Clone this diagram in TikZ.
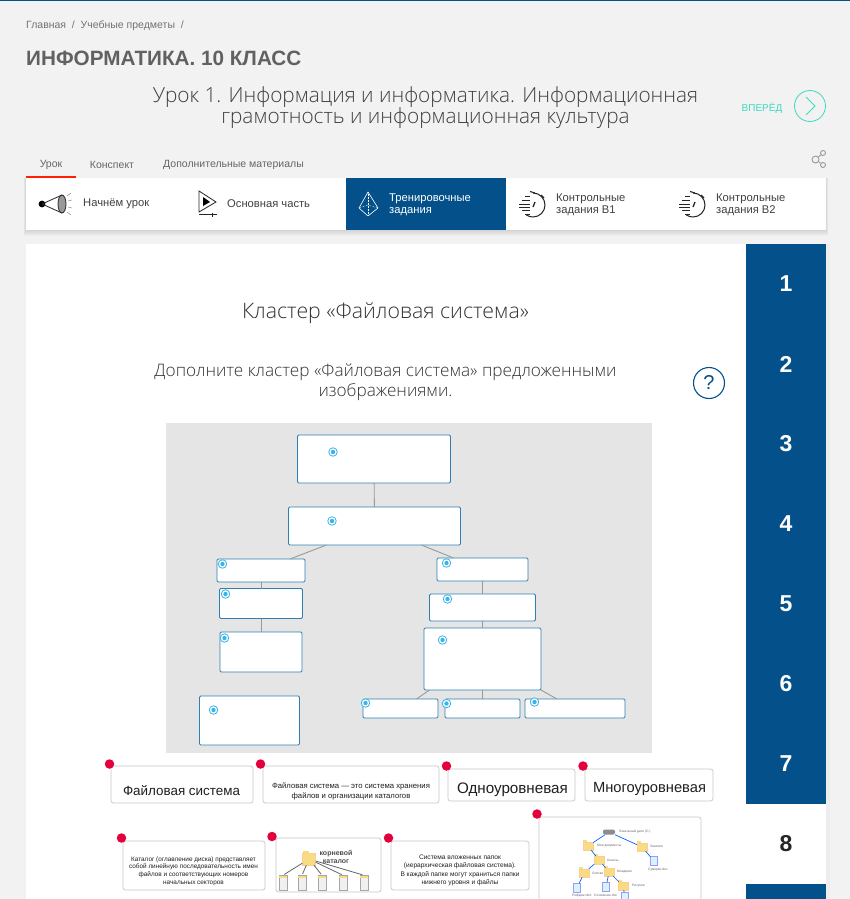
\documentclass[tikz,border=0pt]{standalone}
\usepackage{fontspec}
\setmainfont{Liberation Sans}
\newfontfamily\lightfont[UprightFont=* Light]{Open Sans}

\definecolor{pageblue}{HTML}{04508A}
\definecolor{slotblue}{HTML}{2F7FB5}
\definecolor{markblue}{HTML}{39B4EA}
\definecolor{panelgrey}{HTML}{E5E5E5}
\definecolor{teal}{HTML}{3FD9BF}
\definecolor{dotred}{HTML}{E4003A}
\definecolor{foldery}{HTML}{F8DC82}

\begin{document}
\begin{tikzpicture}[x=1pt,y=-1pt]
  \tikzset{SlotStyle/.style = {
    shape         = rectangle,
    draw          = slotblue,
    fill          = white,
    line width    = 0.9pt,
    rounded corners = 1.2pt,
    inner sep     = 0pt,
    outer sep     = 0pt
    }
  }
  \tikzset{MarkStyle/.style = {
    shape         = circle,
    draw          = markblue,
    fill          = white,
    line width    = 0.8pt,
    minimum size  = 8.5pt,
    inner sep     = 0pt,
    path picture  = {\fill[markblue] (path picture bounding box.center) circle (2.2pt);}
    }
  }
  \tikzset{LinkStyle/.style = {
    draw          = black!40,
    line width    = 0.9pt
    }
  }
  \tikzset{CardStyle/.style = {
    shape         = rectangle,
    draw          = black!22,
    fill          = white,
    line width    = 0.7pt,
    rounded corners = 2.5pt,
    inner sep     = 0pt,
    outer sep     = 0pt
    }
  }
  \tikzset{CardText/.style = {
    inner sep     = 0pt,
    align         = center,
    text          = black!88
    }
  }
  \tikzset{DotStyle/.style = {
    shape         = circle,
    fill          = dotred,
    minimum size  = 9.5pt,
    inner sep     = 0pt
    }
  }
  \tikzset{NumStyle/.style = {
    shape         = rectangle,
    fill          = pageblue,
    text          = white,
    minimum width = 80pt,
    minimum height= 80pt,
    inner sep     = 0pt,
    outer sep     = 0pt,
    font          = \bfseries\fontsize{23}{23}\selectfont
    }
  }
  \tikzset{MenuText/.style = {
    anchor        = west,
    align         = left,
    inner sep     = 0pt,
    text          = black!75,
    font          = \fontsize{11.2}{11.5}\selectfont
    }
  }
  \tikzset{TabText/.style = {
    inner sep     = 0pt,
    text          = black!60,
    font          = \fontsize{10.5}{11}\selectfont
    }
  }
  \tikzset{FolderStyle/.style = {
    shape         = rectangle,
    fill          = foldery,
    draw          = orange!40,
    line width    = 0.3pt,
    minimum width = 10pt,
    minimum height= 8pt,
    inner sep     = 0pt
    }
  }
  \tikzset{DocStyle/.style = {
    shape         = rectangle,
    fill          = cyan!15,
    draw          = blue!40,
    line width    = 0.3pt,
    minimum width = 7pt,
    minimum height= 9pt,
    inner sep     = 0pt
    }
  }
  \tikzset{TinyText/.style = {
    anchor        = west,
    inner sep     = 0pt,
    text          = black!60,
    font          = \fontsize{3.3}{4}\selectfont
    }
  }
  \tikzset{TreeLink/.style = {
    draw          = blue!60!cyan,
    line width    = 0.7pt
    }
  }
  \tikzset{SheetStyle/.style = {
    shape         = rectangle,
    fill          = black!6,
    draw          = black!35,
    line width    = 0.5pt,
    minimum width = 8pt,
    minimum height= 15pt,
    inner sep     = 0pt
    }
  }
  \tikzset{IconLine/.style = {
    draw          = black!85,
    line width    = 0.8pt
    }
  }

  % page
  \useasboundingbox (0,0) rectangle (850,899);
  \fill[black!5] (0,0) rectangle (850,899);
  \fill[pageblue] (0,0) rectangle (850,1);

  % head
  \node[anchor=west, inner sep=0pt, text=black!55, font=\fontsize{10.5}{11}\selectfont](Crumbs) at (26,26) {Главная \ /\ \ Учебные предметы \ /};
  \node[anchor=west, inner sep=0pt, text=black!62, font=\bfseries\fontsize{20.7}{21}\selectfont](Course) at (26,58.5) {ИНФОРМАТИКА. 10 КЛАСС};
  \node[align=center, inner sep=0pt, text=black!75, font=\lightfont\fontsize{20.8}{21}\selectfont](Lesson) at (425.5,108) {Урок 1. Информация и информатика. Информационная\\грамотность и информационная культура};
  \node[inner sep=0pt, text=teal, font=\fontsize{10}{10}\selectfont](Next) at (762,108) {ВПЕРЁД};
  \node[circle, draw=teal, line width=0.8pt, minimum size=31pt, inner sep=0pt](NextRing) at (810,106) {};
  \draw[teal, line width=0.8pt] (806,97) -- (815,106) -- (806,115);

  % share icon
  \node[circle, draw=black!40, line width=0.9pt, minimum size=7pt, inner sep=0pt](ShareA) at (815.5,159.5) {};
  \node[circle, draw=black!40, line width=0.9pt, minimum size=5pt, inner sep=0pt](ShareB) at (823,153) {};
  \node[circle, draw=black!40, line width=0.9pt, minimum size=5pt, inner sep=0pt](ShareC) at (823,165) {};
  \draw[black!40, line width=0.9pt] (ShareA) -- (ShareB);
  \draw[black!40, line width=0.9pt] (ShareA) -- (ShareC);

  % tabs
  \node[TabText](TabLesson) at (51,165) {Урок};
  \node[TabText](TabNotes) at (112,165) {Конспект};
  \node[TabText](TabExtra) at (233.5,165) {Дополнительные материалы};
  \fill[red!75!orange] (26,176) rectangle (76,178);

  % menu
  \foreach \s in {1,...,6}
    \fill[black, opacity=0.018] (26-\s*0.4,178) rectangle (826+\s*0.4,230+\s);
  \fill[white] (26,178) rectangle (826,230);
  \fill[pageblue] (346,178) rectangle (506,230);
  \node[MenuText](MenuStart) at (83,204) {Начнём урок};
  \node[MenuText](MenuMain) at (227,204) {Основная часть};
  \node[MenuText, text=white](MenuTrain) at (389,205) {Тренировочные\\задания};
  \node[MenuText](MenuB1) at (556,205) {Контрольные\\задания В1};
  \node[MenuText](MenuB2) at (716,205) {Контрольные\\задания В2};

  % megaphone
  \fill[black] (42,204) circle (3.4pt);
  \draw[IconLine] (42,204) -- (62,195);
  \draw[IconLine] (42,204) -- (62,213);
  \draw[IconLine, fill=black!40] (62,204) ellipse (4pt and 9pt);
  \foreach \a/\b/\c/\d in {67/196/71/193, 68/201/72/200, 68/207/72/208, 67/212/71/215}
    \draw[black!40, line width=0.6pt] (\a,\b) -- (\c,\d);

  % play
  \draw[IconLine] (199,191) -- (216,202) -- (199,212) -- cycle;
  \fill[black] (203,197) -- (210,202) -- (203,206) -- cycle;
  \draw[black!85, line width=1.2pt] (199,214.5) -- (217,214.5);
  \draw[black!85, line width=0.8pt] (212,212.5) -- (212,216.5);

  % pyramid
  \draw[white, line width=0.6pt, line join=round] (368,192) -- (359,208) -- (368,216) -- (378,208) -- cycle;
  \draw[white, line width=0.5pt, densely dotted] (368,192) -- (368,216);
  \draw[white, line width=0.5pt, densely dotted] (359,208) -- (368,205) -- (378,208);

  % stopwatches
  \foreach \cx in {533,693}{
    \draw[IconLine, line width=1pt] (\cx,193) arc (90:-125:12pt);
    \draw[IconLine, line width=1.1pt] (\cx-3,191.5) -- (\cx+2,193);
    \draw[IconLine, line width=1.1pt] (\cx+8,195) -- (\cx+11,198);
    \foreach \y/\l in {196/6, 200/9, 204/12, 207/12, 210/9, 214/6}
      \draw[black!85, line width=0.9pt] (\cx-\l-2,\y) -- (\cx-3,\y);
    \draw[black!85, line width=1.3pt] (\cx,207) -- (\cx+2,202);
  }

  % lesson card
  \fill[white] (26,244) rectangle (746,899);
  \fill[black!7] (826,244) rectangle (830,899);

  % right column
  \foreach \n in {1,...,7}
    \node[NumStyle](Num\n) at (786,204+80*\n) {\n};
  \node[NumStyle, fill=white, text=black!85](Num8) at (786,844) {8};
  \fill[pageblue] (746,884) rectangle (826,899);

  % task text
  \node[inner sep=0pt, text=black!80, font=\lightfont\fontsize{21.3}{21}\selectfont](Task) at (385.5,313) {Кластер «Файловая система»};
  \node[align=center, inner sep=0pt, text=black!80, font=\lightfont\fontsize{17.2}{20}\selectfont](Hint) at (385.5,382) {Дополните кластер «Файловая система» предложенными\\изображениями.};
  \node[circle, draw=pageblue, line width=1.1pt, minimum size=31pt, inner sep=0pt, text=pageblue, font=\fontsize{20}{20}\selectfont](Help) at (709,383) {?};

  % cluster
  \fill[panelgrey] (166,423) rectangle (652,753);

  \node[SlotStyle, minimum width=153pt, minimum height=48pt](Root) at (374,459) {};
  \node[SlotStyle, minimum width=172pt, minimum height=38pt](Kinds) at (374.5,526) {};
  \node[SlotStyle, minimum width=88pt, minimum height=23pt](LeftA) at (261,570.5) {};
  \node[SlotStyle, minimum width=83pt, minimum height=30pt](LeftB) at (261,603.5) {};
  \node[SlotStyle, minimum width=82pt, minimum height=40pt](LeftC) at (261,652) {};
  \node[SlotStyle, minimum width=100pt, minimum height=49pt](LeftD) at (249.5,720.5) {};
  \node[SlotStyle, minimum width=91pt, minimum height=23pt](RightA) at (482.5,569.5) {};
  \node[SlotStyle, minimum width=106pt, minimum height=27pt](RightB) at (482.5,607.5) {};
  \node[SlotStyle, minimum width=117pt, minimum height=62pt](RightC) at (482.5,659) {};
  \node[SlotStyle, minimum width=75pt, minimum height=19pt](LeafA) at (400.5,708.5) {};
  \node[SlotStyle, minimum width=75pt, minimum height=19pt](LeafB) at (482.5,708.5) {};
  \node[SlotStyle, minimum width=100pt, minimum height=19pt](LeafC) at (575,708.5) {};

  \draw[LinkStyle] (Root) -- (Kinds);
  \draw[LinkStyle] ([xshift=-48pt]Kinds.south) -- ([xshift=29pt]LeftA.north);
  \draw[LinkStyle] ([xshift=47pt]Kinds.south) -- ([xshift=-29pt]RightA.north);
  \draw[LinkStyle] (LeftA) -- (LeftB);
  \draw[LinkStyle] (LeftB) -- (LeftC);
  \draw[LinkStyle] (RightA) -- (RightB);
  \draw[LinkStyle] (RightB) -- (RightC);
  \draw[LinkStyle] (RightC) -- (LeafB);
  \draw[LinkStyle] ([xshift=-53pt]RightC.south) -- ([xshift=16pt]LeafA.north);
  \draw[LinkStyle] (RightC.south east) -- ([xshift=-18pt]LeafC.north);

  \node[MarkStyle](MarkRoot) at (333,452) {};
  \node[MarkStyle](MarkKinds) at (332,521) {};
  \node[MarkStyle](MarkLeftA) at (222.5,564) {};
  \node[MarkStyle](MarkLeftB) at (225.5,594) {};
  \node[MarkStyle](MarkLeftC) at (224.5,638) {};
  \node[MarkStyle](MarkLeftD) at (213.5,710) {};
  \node[MarkStyle](MarkRightA) at (446.5,563) {};
  \node[MarkStyle](MarkRightB) at (447.5,599) {};
  \node[MarkStyle](MarkRightC) at (442.5,640) {};
  \node[MarkStyle](MarkLeafA) at (365.5,703) {};
  \node[MarkStyle](MarkLeafB) at (446.5,703.5) {};
  \node[MarkStyle](MarkLeafC) at (534.5,702) {};

  % cards, first row
  \node[CardStyle, minimum width=142pt, minimum height=37pt](CardName) at (182,784.5) {};
  \node[CardStyle, minimum width=176pt, minimum height=37pt](CardDef) at (351,784.5) {};
  \node[CardStyle, minimum width=127pt, minimum height=32pt](CardOne) at (511.5,785) {};
  \node[CardStyle, minimum width=128pt, minimum height=32pt](CardMany) at (649,785) {};
  \node[CardText, font=\fontsize{13.4}{14}\selectfont](TextName) at (181.5,791) {Файловая система};
  \node[CardText, font=\fontsize{7.7}{10}\selectfont](TextDef) at (351,791) {Файловая система — это система хранения\\файлов и организации каталогов};
  \node[CardText, font=\fontsize{15.2}{16}\selectfont](TextOne) at (512.5,789.5) {Одноуровневая};
  \node[CardText, font=\fontsize{14.7}{16}\selectfont](TextMany) at (649.5,788.5) {Многоуровневая};
  \node[DotStyle](DotName) at (109.5,764) {};
  \node[DotStyle](DotDef) at (260.5,764) {};
  \node[DotStyle](DotOne) at (446.5,766) {};
  \node[DotStyle](DotMany) at (583,766) {};

  % cards, second row
  \node[CardStyle, minimum width=142pt, minimum height=49pt](CardDir) at (194,865.5) {};
  \node[CardStyle, minimum width=105pt, minimum height=54pt](CardRoot) at (328.5,865) {};
  \node[CardStyle, minimum width=138pt, minimum height=49pt](CardNest) at (460,865.5) {};
  \node[CardStyle, minimum width=162pt, minimum height=120pt](CardTree) at (620,877) {};
  \node[CardText, font=\fontsize{6.4}{7.7}\selectfont](TextDir) at (193.5,871) {Каталог (оглавление диска) представляет\\собой линейную последовательность имен\\файлов и соответствующих номеров\\начальных секторов};
  \node[CardText, font=\fontsize{6.6}{8.5}\selectfont](TextNest) at (460,870.5) {Система вложенных папок\\(иерархическая файловая система).\\В каждой папке могут храниться папки\\нижнего уровня и файлы};
  \node[DotStyle](DotDir) at (121.5,838) {};
  \node[DotStyle](DotRoot) at (272,836.5) {};
  \node[DotStyle](DotNest) at (388.5,838) {};
  \node[DotStyle](DotTree) at (537,814) {};

  % root catalogue picture
  \node[FolderStyle, minimum width=13pt, minimum height=12pt](RootDir) at (309,859) {};
  \fill[foldery] (303,851) rectangle (309,853);
  \node[align=center, inner sep=0pt, text=black!70, font=\bfseries\fontsize{7}{8}\selectfont](RootName) at (336,857) {корневой\\каталог};
  \foreach \i/\x in {1/283,2/302,3/322,4/343,5/364}{
    \node[SheetStyle](Sheet\i) at (\x,883) {};
    \fill[foldery] (\x-4,875.5) rectangle (\x+4,878);
    \draw[black!60, line width=0.8pt, shorten >=1.5pt] (RootDir) -- (Sheet\i.north);
  }

  % folder tree picture
  \node[shape=rectangle, fill=black!45, minimum width=12pt, minimum height=5pt, rounded corners=2pt, inner sep=0pt](Disk) at (609,832) {};
  \node[FolderStyle](DirA) at (588,846) {};
  \node[FolderStyle](DirB) at (642,847) {};
  \node[FolderStyle](DirC) at (599,860) {};
  \node[FolderStyle](DirD) at (584,873) {};
  \node[FolderStyle](DirE) at (609,872) {};
  \node[FolderStyle](DirF) at (623,886) {};
  \node[DocStyle](DocA) at (654,861) {};
  \node[DocStyle](DocB) at (577,888) {};
  \node[DocStyle](DocC) at (606,887) {};
  \node[DocStyle](DocD) at (625,897) {};
  \foreach \d in {DirA,DirB,DirC,DirD,DirE,DirF}
    \fill[foldery] (\d.north west) rectangle ([xshift=4pt,yshift=1.5pt]\d.north west);
  \draw[TreeLink] (Disk) -- (DirA);
  \draw[TreeLink] (Disk) -- (DirB);
  \draw[TreeLink] (DirA) -- (DirC);
  \draw[TreeLink] (DirB) -- (DocA);
  \draw[TreeLink] (DirC) -- (DirD);
  \draw[TreeLink] (DirC) -- (DirE);
  \draw[TreeLink] (DirD) -- (DocB);
  \draw[TreeLink] (DirE) -- (DocC);
  \draw[TreeLink] (DirE) -- (DirF);
  \draw[TreeLink] (DirF) -- (DocD);
  \node[TinyText](TextDisk) at (619,831.5) {Локальный диск (C:)};
  \node[TinyText](TextA) at (597,846) {Мои документы};
  \node[TinyText](TextB) at (650,846) {Занятия};
  \node[TinyText](TextC) at (607,860) {Классы};
  \node[TinyText](TextD) at (592,873) {Списки};
  \node[TinyText](TextE) at (617,872) {Младшие};
  \node[TinyText](TextF) at (632,886) {Рисунки};
  \node[TinyText](TextG) at (648,870) {Сумерки.doc};
  \node[TinyText](TextH) at (572,896) {Реферат.doc};
  \node[TinyText](TextI) at (594,895) {Сочинение.doc};

\end{tikzpicture}
\end{document}
